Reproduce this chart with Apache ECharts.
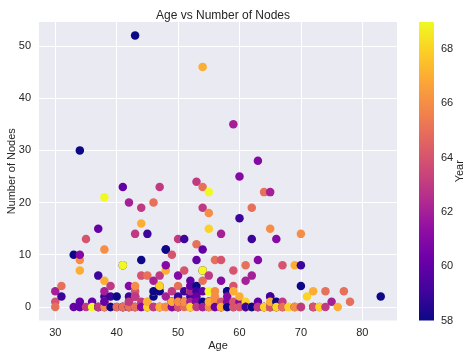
<!DOCTYPE html>
<html><head><meta charset="utf-8">
<script src="https://cdn.jsdelivr.net/npm/echarts@6/dist/echarts.min.js"></script>
<style>html,body{margin:0;padding:0;background:#fff}#c{width:473px;height:359px}</style>
</head><body><div id="c"></div>
<script>
const ages = [30,30,30,31,31,33,33,34,34,34,34,34,34,34,35,35,36,36,37,37,37,37,37,37,38,38,38,38,38,38,38,38,38,38,39,39,39,39,39,39,40,40,40,41,41,41,41,41,41,41,41,41,42,42,42,42,42,42,42,42,42,43,43,43,43,43,43,43,43,43,43,43,44,44,44,44,44,44,44,45,45,45,45,45,45,45,45,45,46,46,46,46,46,46,46,47,47,47,47,47,47,47,47,47,47,48,48,48,48,48,48,48,49,49,49,49,49,49,49,49,49,49,50,50,50,50,50,50,50,50,50,50,50,50,51,51,51,51,51,51,52,52,52,52,52,52,52,52,52,52,52,52,52,52,53,53,53,53,53,53,53,53,53,53,53,54,54,54,54,54,54,54,54,54,54,54,54,54,55,55,55,55,55,55,55,55,55,55,56,56,56,56,56,56,56,57,57,57,57,57,57,57,57,57,57,57,58,58,58,58,58,58,58,59,59,59,59,59,59,59,59,60,60,60,60,60,60,61,61,61,61,61,61,61,61,61,62,62,62,62,62,62,62,63,63,63,63,63,63,63,64,64,64,64,64,65,65,65,65,65,65,65,65,65,65,66,66,66,66,66,67,67,67,67,67,67,68,68,69,69,69,69,70,70,70,70,70,70,70,71,72,72,72,72,73,73,74,74,75,76,77,78,83];
const years = [64,62,65,59,65,58,60,59,66,58,60,61,67,60,64,63,60,69,60,63,58,59,60,63,69,59,60,60,62,64,66,66,60,67,66,63,67,58,59,63,58,58,65,60,64,67,58,59,59,64,69,65,69,59,58,60,59,61,62,65,63,58,59,64,64,63,64,64,60,63,65,66,64,58,63,61,63,61,67,65,66,67,60,67,59,64,68,67,58,69,62,65,62,58,63,63,62,65,61,63,66,67,58,60,68,58,58,67,61,62,64,66,63,64,61,62,66,60,62,63,61,67,63,64,59,61,61,63,58,59,61,64,65,66,59,59,64,59,65,66,69,59,62,66,61,63,69,60,60,62,62,64,65,68,58,65,59,60,63,65,58,60,60,61,63,60,65,65,68,59,60,66,67,62,69,63,58,62,63,68,58,58,58,66,66,69,69,67,65,66,60,66,66,67,60,61,62,64,64,69,61,62,63,64,64,67,59,60,61,67,58,58,61,62,60,63,64,64,64,64,67,59,65,61,67,61,64,62,65,68,59,59,64,65,68,59,59,58,65,62,66,66,58,60,61,62,63,63,61,61,58,65,66,61,68,58,61,62,66,58,64,67,59,64,67,58,61,58,58,68,64,63,66,66,61,65,67,68,67,60,65,66,58,58,66,67,68,59,63,68,63,58,64,67,62,68,65,63,62,67,65,65,58];
const nodes = [1,3,0,2,4,10,0,0,9,30,1,10,7,0,13,0,1,0,0,0,0,6,15,0,21,2,0,0,3,1,0,11,1,5,0,0,0,0,2,4,2,0,0,23,0,0,0,8,0,0,8,0,1,0,0,1,2,4,20,0,1,52,2,0,0,14,2,3,0,2,0,4,6,9,19,0,1,0,16,6,0,1,0,0,14,0,0,1,2,3,5,20,0,3,0,23,0,0,0,6,0,0,3,4,4,11,11,7,8,2,0,0,0,10,1,0,0,1,1,3,0,1,13,0,0,6,0,1,1,2,0,0,4,1,13,3,7,1,0,1,3,2,3,4,0,4,0,4,5,0,1,0,0,0,4,1,3,9,24,12,1,1,2,1,0,11,23,5,7,7,3,0,46,0,7,19,1,0,6,15,1,0,1,18,0,3,22,1,9,3,0,2,1,0,0,5,14,1,9,0,0,0,0,0,0,0,0,3,1,0,0,3,2,35,0,0,1,4,0,7,3,17,0,1,2,25,0,5,0,1,0,0,0,8,0,0,13,0,19,6,0,0,0,1,0,0,0,0,9,28,0,22,0,0,0,0,2,22,15,0,0,0,2,0,1,0,13,0,1,0,8,1,0,0,0,0,0,0,8,0,0,0,0,4,14,0,0,8,0,2,0,0,0,3,0,0,3,0,1,0,3,1,2];
const xTicks = [30,40,50,60,70,80];
const yTicks = [0,10,20,30,40,50];
const yearTicks = [58,60,62,64,66,68];
const plasma = ['#0d0887','#41049d','#6a00a8','#8f0da4','#b12a90','#cc4778','#e16462','#f2844b','#fca636','#fcce25','#f0f921'];

const points = ages.map((a,i)=>[a, nodes[i], years[i]]);
const txt = '#262626';
const font = 'Liberation Sans, Arial, sans-serif';
const chart = echarts.init(document.getElementById('c'), null, {renderer:'canvas'});
chart.setOption({
  animation:false,
  textStyle:{fontFamily:font},
  title:{text:'Age vs Number of Nodes', left:218, top:5, textAlign:'center',
    textStyle:{fontSize:12, fontWeight:'normal', color:txt, fontFamily:font}},
  grid:[
    {left:39, right:76, top:22, bottom:38.5, show:true, backgroundColor:'#EAEAF2', borderWidth:0, containLabel:false, outerBoundsMode:'none'},
    {left:419, width:15, top:22, bottom:38.5, show:false, containLabel:false, outerBoundsMode:'none'}
  ],
  visualMap:{type:'continuous', show:false, min:58, max:69, dimension:2, seriesIndex:0, inRange:{color:plasma}},
  xAxis:[
    {type:'value', gridIndex:0, min:27.35, max:85.65,
     axisLine:{show:false}, axisTick:{show:false, customValues:xTicks},
     splitLine:{show:true, lineStyle:{color:'#fff', width:1}},
     axisLabel:{color:txt, fontSize:11, margin:7, fontFamily:font,
       customValues:xTicks, formatter:v=>String(v)},
     name:'Age', nameLocation:'middle', nameGap:19.5, nameMoveOverlap:false,
     nameTextStyle:{color:txt, fontSize:11, fontFamily:font}},
    {type:'category', gridIndex:1, data:['c'], show:false}
  ],
  yAxis:[
    {type:'value', gridIndex:0, min:-2.6, max:54.6,
     axisLine:{show:false}, axisTick:{show:false, customValues:yTicks},
     splitLine:{show:true, lineStyle:{color:'#fff', width:1}},
     axisLabel:{color:txt, fontSize:11, margin:8, fontFamily:font, customValues:yTicks, formatter:v=>String(v)},
     name:'Number of Nodes', nameLocation:'middle', nameGap:22, nameRotate:90, nameMoveOverlap:false,
     nameTextStyle:{color:txt, fontSize:11, fontFamily:font}},
    {type:'value', gridIndex:1, min:58, max:69, position:'right',
     axisLine:{show:false}, axisTick:{show:false, customValues:yearTicks}, splitLine:{show:false},
     axisLabel:{color:txt, fontSize:11, margin:7, fontFamily:font, customValues:yearTicks, formatter:v=>String(v)},
     name:'Year', nameLocation:'middle', nameGap:20, nameRotate:90, nameMoveOverlap:false,
     nameTextStyle:{color:txt, fontSize:11, fontFamily:font}}
  ],
  series:[
    {type:'scatter', xAxisIndex:0, yAxisIndex:0, data:points, symbolSize:8.5, itemStyle:{opacity:1}},
    {type:'custom', xAxisIndex:1, yAxisIndex:1, data:[[0,69]], silent:true,
     renderItem:function(params, api){
       const top = api.coord([0, 69]);
       const bot = api.coord([0, 58]);
       const w = api.size([1,0])[0];
       return {type:'rect', shape:{x:top[0]-w/2, y:top[1], width:w, height:bot[1]-top[1]},
         style:{fill:{type:'linear', x:0, y:1, x2:0, y2:0,
           colorStops:plasma.map((c,i)=>({offset:i/(plasma.length-1), color:c}))}}};
     }}
  ]
});
</script>
</body></html>
